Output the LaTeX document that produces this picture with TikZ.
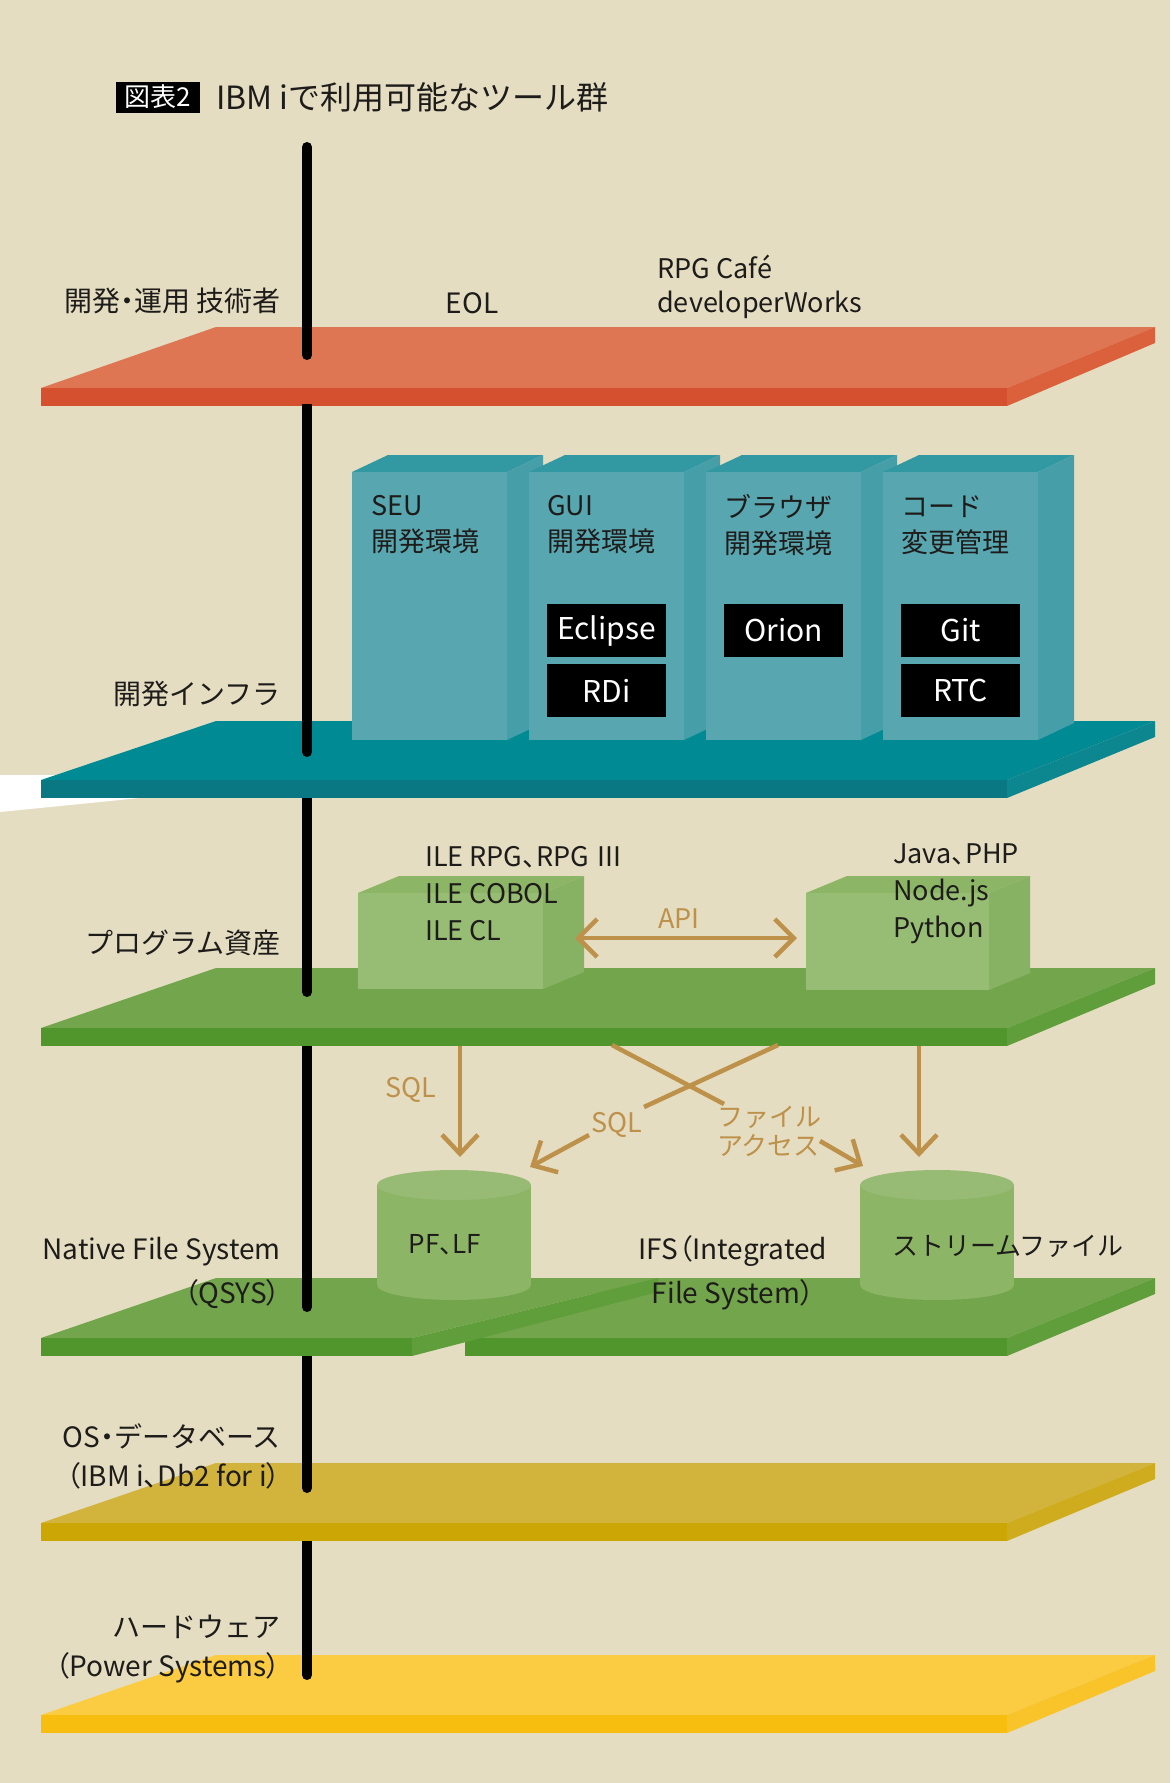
\documentclass[tikz,border=0pt]{standalone}
\usepackage{fontspec}
\setmainfont{Noto Sans CJK JP}
\newfontfamily\jpalt[RawFeature=+palt]{Noto Sans CJK JP}
\usetikzlibrary{arrows.meta}
\newcommand\jlp{{\jpalt （}}
\newcommand\jrp{{\jpalt ）}}
\newcommand\jten{{\jpalt 、}}
\newcommand\jdot{{\jpalt ・}}
\definecolor{bgc}{HTML}{E4DDC1}
\definecolor{txt}{HTML}{1E1C1A}
\definecolor{redT}{HTML}{DE7654}
\definecolor{redF}{HTML}{D5502F}
\definecolor{redS}{HTML}{DB603C}
\definecolor{tealT}{HTML}{008A94}
\definecolor{tealF}{HTML}{0A7882}
\definecolor{tealS}{HTML}{0C8790}
\definecolor{boxF}{HTML}{58A6B0}
\definecolor{boxT}{HTML}{3298A2}
\definecolor{boxS}{HTML}{469EA8}
\definecolor{grnT}{HTML}{73A64C}
\definecolor{grnF}{HTML}{50962D}
\definecolor{grnS}{HTML}{5F9E3A}
\definecolor{gbF}{HTML}{97BC73}
\definecolor{gbT}{HTML}{8CB666}
\definecolor{gbS}{HTML}{87B264}
\definecolor{cylB}{HTML}{8CB566}
\definecolor{cylT}{HTML}{97BB74}
\definecolor{osT}{HTML}{D2B43C}
\definecolor{osF}{HTML}{CBA605}
\definecolor{osS}{HTML}{CFAC1E}
\definecolor{hwT}{HTML}{FBCB42}
\definecolor{hwF}{HTML}{F7BE10}
\definecolor{hwS}{HTML}{F9C42A}
\definecolor{arrowc}{HTML}{BE914B}
\newcommand\layerplate[5]{%
  \fill[#1] (41,#5) -- (216,#4) -- (1155,#4) -- (1007,#5) -- cycle;
  \fill[#2] (41,#5) -- (1007,#5) -- (1007,#5+18) -- (41,#5+18) -- cycle;
  \fill[#3] (1007,#5) -- (1155,#4) -- (1155,#4+16) -- (1007,#5+18) -- cycle;
}
\begin{document}
\begin{tikzpicture}[x=1pt,y=-1pt,
  lbl/.style={text=txt, inner sep=0pt, font=\fontsize{28}{40}\selectfont},
  boxlbl/.style={text=txt, inner sep=0pt, align=left, anchor=west, font=\fontsize{27}{36}\selectfont},
  tool/.style={fill=black, text=white, inner sep=0pt, minimum width=119pt, minimum height=53pt, font=\fontsize{30}{36}\selectfont},
  alabel/.style={text=arrowc, inner sep=0pt, font=\fontsize{27}{30}\selectfont},
  flow/.style={draw=arrowc, line width=4.5pt},
  flowtip/.style={flow, -{Straight Barb[length=19pt,width=36pt]}},
  spine/.style={line width=10pt, draw=black},
]
\fill[bgc] (0,0) rectangle (1170,1783);
\useasboundingbox (0,0) rectangle (1170,1783);

% title
\node[fill=black, text=white, font=\fontsize{26}{30}\selectfont, minimum width=84pt, minimum height=31pt, inner sep=0pt] (tag) at (158,97) {図表2};
\node[anchor=west, text=txt, inner sep=0pt, font=\fontsize{32}{36}\selectfont] (title) at (216,97) {IBM iで利用可能なツール群};

% white wedge at left
\fill[white] (0,775) -- (60,775) -- (140,798) -- (0,812) -- cycle;

% plates
\layerplate{redT}{redF}{redS}{327}{388}
\layerplate{tealT}{tealF}{tealS}{721}{780}
\layerplate{grnT}{grnF}{grnS}{968}{1028}
% file system plates
\fill[grnT] (465,1338) -- (640,1278) -- (1155,1278) -- (1007,1338) -- cycle;
\fill[grnF] (465,1338) -- (1007,1338) -- (1007,1356) -- (465,1356) -- cycle;
\fill[grnS] (1007,1338) -- (1155,1278) -- (1155,1294) -- (1007,1356) -- cycle;
\fill[grnT] (41,1338) -- (216,1278) -- (658,1278) -- (412,1338) -- cycle;
\fill[grnF] (41,1338) -- (412,1338) -- (412,1356) -- (41,1356) -- cycle;
\fill[grnS] (412,1338) -- (658,1278) -- (658,1292) -- (412,1356) -- cycle;
\layerplate{osT}{osF}{osS}{1463}{1523}
\layerplate{hwT}{hwF}{hwS}{1655}{1715}

% spine
\draw[spine] (307,147) -- (307,355);
\draw[spine] (307,404) -- (307,752);
\draw[spine] (307,798) -- (307,992);
\draw[spine] (307,1046) -- (307,1307);
\draw[spine] (307,1356) -- (307,1488);
\draw[spine] (307,1541) -- (307,1675);
\foreach \yy in {147,355,752,992,1307,1488,1675} {\fill[black] (307,\yy) circle (5pt);}

% teal boxes
\foreach \i in {0,1,2,3} {
  \pgfmathsetmacro\bx{352+177*\i}
  \fill[boxT] (\bx,472) -- (\bx+36,455) -- (\bx+191,455) -- (\bx+155,472) -- cycle;
  \fill[boxS] (\bx+155,472) -- (\bx+191,455) -- (\bx+191,723) -- (\bx+155,740) -- cycle;
  \fill[boxF] (\bx,472) rectangle (\bx+155,740);
}
\node[boxlbl] (seu) at (371,525) {SEU\\開発環境};
\node[boxlbl] (gui) at (547,525) {GUI\\開発環境};
\node[boxlbl] (brw) at (724,525) {ブラウザ\\開発環境};
\node[boxlbl] (code) at (901,525) {コード\\変更管理};
\node[tool] (eclipse) at (606.5,630.5) {Eclipse};
\node[tool] (rdi) at (606.5,690.5) {RDi};
\node[tool] (orion) at (783.5,630.5) {Orion};
\node[tool] (git) at (960.5,630.5) {Git};
\node[tool] (rtc) at (960.5,690.5) {RTC};

% green program boxes
\fill[gbT] (358,893) -- (399,876) -- (584,876) -- (543,893) -- cycle;
\fill[gbS] (543,893) -- (584,876) -- (584,972) -- (543,989) -- cycle;
\fill[gbF] (358,893) rectangle (543,989);
\fill[gbT] (806,893) -- (847,876) -- (1030,876) -- (989,893) -- cycle;
\fill[gbS] (989,893) -- (1030,876) -- (1030,973) -- (989,990) -- cycle;
\fill[gbF] (806,893) rectangle (989,990);
\node[boxlbl, font=\fontsize{27}{37}\selectfont] (ile) at (425,894) {ILE RPG\jten RPG\,\,III\\ILE COBOL\\ILE CL};
\node[boxlbl, font=\fontsize{27}{37}\selectfont] (oss) at (893,894) {Java\jten PHP\\Node.js\\Python};

% API arrow
\coordinate (apiL) at (575,938);
\coordinate (apiR) at (797,938);
\draw[flow, {Straight Barb[length=19pt,width=38pt]}-{Straight Barb[length=19pt,width=38pt]}] (apiL) -- (apiR);
\node[alabel] (api) at (679,919) {API};

% cylinders
\fill[cylB] (377,1185) rectangle (531,1285);
\fill[cylB] (454,1285) ellipse [x radius=77, y radius=15];
\fill[cylT] (454,1185) ellipse [x radius=77, y radius=15];
\fill[cylB] (860,1185) rectangle (1014,1285);
\fill[cylB] (937,1285) ellipse [x radius=77, y radius=15];
\fill[cylT] (937,1185) ellipse [x radius=77, y radius=15];
\node[lbl, font=\fontsize{26}{30}\selectfont] (pflf) at (445,1245) {PF\jten LF};
\node[lbl, anchor=west, font=\fontsize{26}{30}\selectfont] (stream) at (892,1246) {ストリームファイル};

% data access arrows
\coordinate (sqlAs) at (460,1046);
\coordinate (sqlAe) at (460,1157);
\coordinate (strS) at (919,1046);
\coordinate (strE) at (919,1157);
\coordinate (faS) at (612,1045);
\coordinate (faM) at (724,1104);
\coordinate (faN) at (820,1141);
\coordinate (faE) at (863,1166);
\coordinate (sqS) at (778,1045);
\coordinate (sqM) at (644,1107);
\coordinate (sqN) at (589,1135);
\coordinate (sqE) at (530,1167);
\draw[flowtip] (sqlAs) -- (sqlAe);
\draw[flowtip] (strS) -- (strE);
\draw[flow] (faS) -- (faM);
\draw[flowtip] (faN) -- (faE);
\draw[flow] (sqS) -- (sqM);
\draw[flowtip] (sqN) -- (sqE);
\node[alabel] (sql1) at (411,1090) {SQL};
\node[alabel] (sql2) at (617,1125) {SQL};
\node[alabel, anchor=west, align=left, font=\fontsize{26}{29}\selectfont] (facc) at (717,1131) {ファイル\\アクセス};

% file system labels
\node[lbl, align=center, font=\fontsize{28}{44}\selectfont] (ifs) at (733,1273) {IFS\jlp Integrated\\File System\jrp};

% top layer labels
\node[lbl] (eol) at (472,303) {EOL};
\node[lbl, anchor=west, align=left, font=\fontsize{27}{34}\selectfont] (web) at (657,287) {RPG Café\\developerWorks};

% layer names
\node[lbl, anchor=east] (l1) at (281,301) {開発\jdot 運用 技術者};
\node[lbl, anchor=east] (l2) at (281,694) {開発インフラ};
\node[lbl, anchor=east] (l3) at (281,943) {プログラム資産};
\node[lbl, anchor=east, align=right, font=\fontsize{28}{44}\selectfont] (l4) at (281,1273) {Native File System\\\jlp QSYS\jrp};
\node[lbl, anchor=east, align=right, font=\fontsize{28}{39}\selectfont] (l5) at (281,1456) {OS\jdot データベース\\\jlp IBM i\jten Db2 for i\jrp};
\node[lbl, anchor=east, align=right, font=\fontsize{28}{39}\selectfont] (l6) at (281,1649) {ハードウェア\\\jlp Power Systems\jrp};
\end{tikzpicture}
\end{document}
